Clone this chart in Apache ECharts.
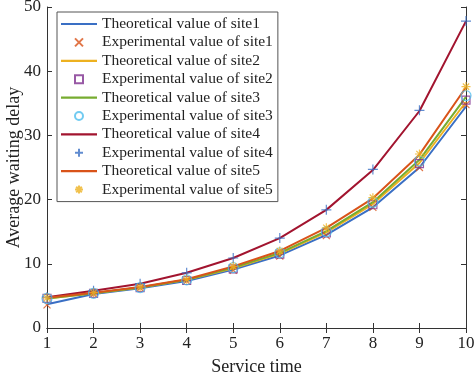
<!DOCTYPE html>
<html>
<head>
<meta charset="utf-8">
<script src="https://cdn.jsdelivr.net/npm/echarts@6/dist/echarts.min.js"></script>
<style>
  html, body { margin: 0; padding: 0; background: #fff; }
  #chart { width: 474px; height: 375px; }
</style>
</head>
<body>
<div id="chart"></div>
<script>
var serviceTime = [1, 2, 3, 4, 5, 6, 7, 8, 9, 10];

var theo1 = [3.7, 5.3, 6.2, 7.3, 9.1, 11.3, 14.5, 18.8, 25.0, 34.5];
var exp1  = [3.6, 5.3, 6.2, 7.3, 9.0, 11.2, 14.4, 18.8, 25.0, 34.8];
var theo2 = [4.6, 5.4, 6.3, 7.5, 9.3, 11.6, 14.9, 19.3, 25.7, 35.2];
var exp2  = [4.6, 5.4, 6.3, 7.4, 9.2, 11.5, 14.8, 19.2, 25.6, 35.5];
var theo3 = [4.6, 5.4, 6.3, 7.5, 9.4, 11.7, 15.1, 19.6, 26.2, 36.0];
var exp3  = [4.6, 5.4, 6.3, 7.5, 9.4, 11.7, 15.0, 19.6, 26.0, 36.2];
var theo4 = [4.8, 5.8, 6.9, 8.6, 10.9, 14.0, 18.4, 24.6, 33.8, 47.8];
var exp4  = [4.8, 5.8, 6.9, 8.6, 10.9, 14.0, 18.4, 24.7, 33.9, 47.8];
var theo5 = [4.7, 5.5, 6.4, 7.6, 9.6, 12.0, 15.6, 20.2, 27.0, 37.5];
var exp5  = [4.7, 5.5, 6.4, 7.6, 9.6, 12.0, 15.6, 20.3, 27.1, 37.6];

var font = 'Liberation Serif';

function pairs(ys) {
    return serviceTime.map(function (x, i) { return [x, ys[i]]; });
}

function theoLine(name, ys, color) {
    return {
        name: name,
        type: 'line',
        data: pairs(ys),
        symbol: 'none',
        lineStyle: { color: color, width: 2 },
        itemStyle: { color: color },
        z: 2
    };
}

function expPoints(name, ys, symbol, color, size) {
    return {
        name: name,
        type: 'scatter',
        data: pairs(ys),
        symbol: symbol,
        symbolSize: size,
        itemStyle: { color: 'rgba(0,0,0,0)', borderColor: color, borderWidth: 1.2 },
        z: 3
    };
}

// marker shapes
var crossX = 'path://M0,0L10,10M10,0L0,10';
var plus = 'path://M5,0L5,10M0,5L10,5';
var star = 'path://M5,0L5,10M0,5L10,5M1.5,1.5L8.5,8.5M8.5,1.5L1.5,8.5';
var square = 'path://M0,0L10,0L10,10L0,10Z';
var lineIcon = 'path://M0,0L36,0L36,2.2L0,2.2Z';

var names = [
    'Theoretical value of site1', 'Experimental value of site1',
    'Theoretical value of site2', 'Experimental value of site2',
    'Theoretical value of site3', 'Experimental value of site3',
    'Theoretical value of site4', 'Experimental value of site4',
    'Theoretical value of site5', 'Experimental value of site5'
];

var myChart = echarts.init(document.getElementById('chart'));

var option = {
    animation: false,
    textStyle: { fontFamily: font },
    grid: { left: 47, right: 8, top: 7, bottom: 47, outerBoundsMode: 'none' },
    legend: {
        orient: 'vertical',
        left: 57,
        top: 12,
        padding: [4, 5, 4, 4],
        itemGap: 2.4,
        itemWidth: 36,
        itemHeight: 8,
        backgroundColor: '#fff',
        borderColor: '#555',
        borderWidth: 1,
        textStyle: { fontFamily: font, fontSize: 15.5, color: '#222' },
        data: names.map(function (n, i) {
            return i % 2 === 0 ? { name: n, icon: lineIcon } : { name: n };
        })
    },
    xAxis: [{
        type: 'value',
        min: 1,
        max: 10,
        interval: 1,
        name: 'Service time',
        nameLocation: 'middle',
        nameGap: 30,
        nameMoveOverlap: false,
        nameTextStyle: { fontFamily: font, fontSize: 18, color: '#222' },
        axisLine: { lineStyle: { color: '#333' } },
        axisTick: { inside: true, length: 5, lineStyle: { color: '#333' } },
        axisLabel: { fontFamily: font, fontSize: 17, color: '#222', margin: 7 },
        splitLine: { show: false }
    }, {
        type: 'value',
        position: 'top',
        min: 1,
        max: 10,
        interval: 1,
        axisLine: { show: true, lineStyle: { color: '#333' } },
        axisTick: { show: true, inside: true, length: 5, lineStyle: { color: '#333' } },
        axisLabel: { show: false },
        splitLine: { show: false }
    }],
    yAxis: [{
        type: 'value',
        min: 0,
        max: 50,
        interval: 10,
        name: 'Average waiting delay',
        nameLocation: 'middle',
        nameGap: 24,
        nameMoveOverlap: false,
        nameTextStyle: { fontFamily: font, fontSize: 18, color: '#222' },
        axisLine: { show: true, lineStyle: { color: '#333' } },
        axisTick: { show: true, inside: true, length: 5, lineStyle: { color: '#333' } },
        axisLabel: { fontFamily: font, fontSize: 17, color: '#222', margin: 6 },
        splitLine: { show: false }
    }, {
        type: 'value',
        position: 'right',
        min: 0,
        max: 50,
        interval: 10,
        axisLine: { show: true, lineStyle: { color: '#333' } },
        axisTick: { show: true, inside: true, length: 5, lineStyle: { color: '#333' } },
        axisLabel: { show: false },
        splitLine: { show: false }
    }],
    series: [
        theoLine(names[0], theo1, '#3a6fc4'),
        expPoints(names[1], exp1, crossX, '#d95319', 7),
        theoLine(names[2], theo2, '#edb120'),
        expPoints(names[3], exp2, square, '#7e2f8e', 8),
        theoLine(names[4], theo3, '#77ac30'),
        expPoints(names[5], exp3, 'circle', '#4dbeee', 10),
        theoLine(names[6], theo4, '#a2142f'),
        expPoints(names[7], exp4, plus, '#3a6fc4', 10),
        theoLine(names[8], theo5, '#d95319'),
        expPoints(names[9], exp5, star, '#edb120', 9)
    ]
};

myChart.setOption(option);
</script>
</body>
</html>
